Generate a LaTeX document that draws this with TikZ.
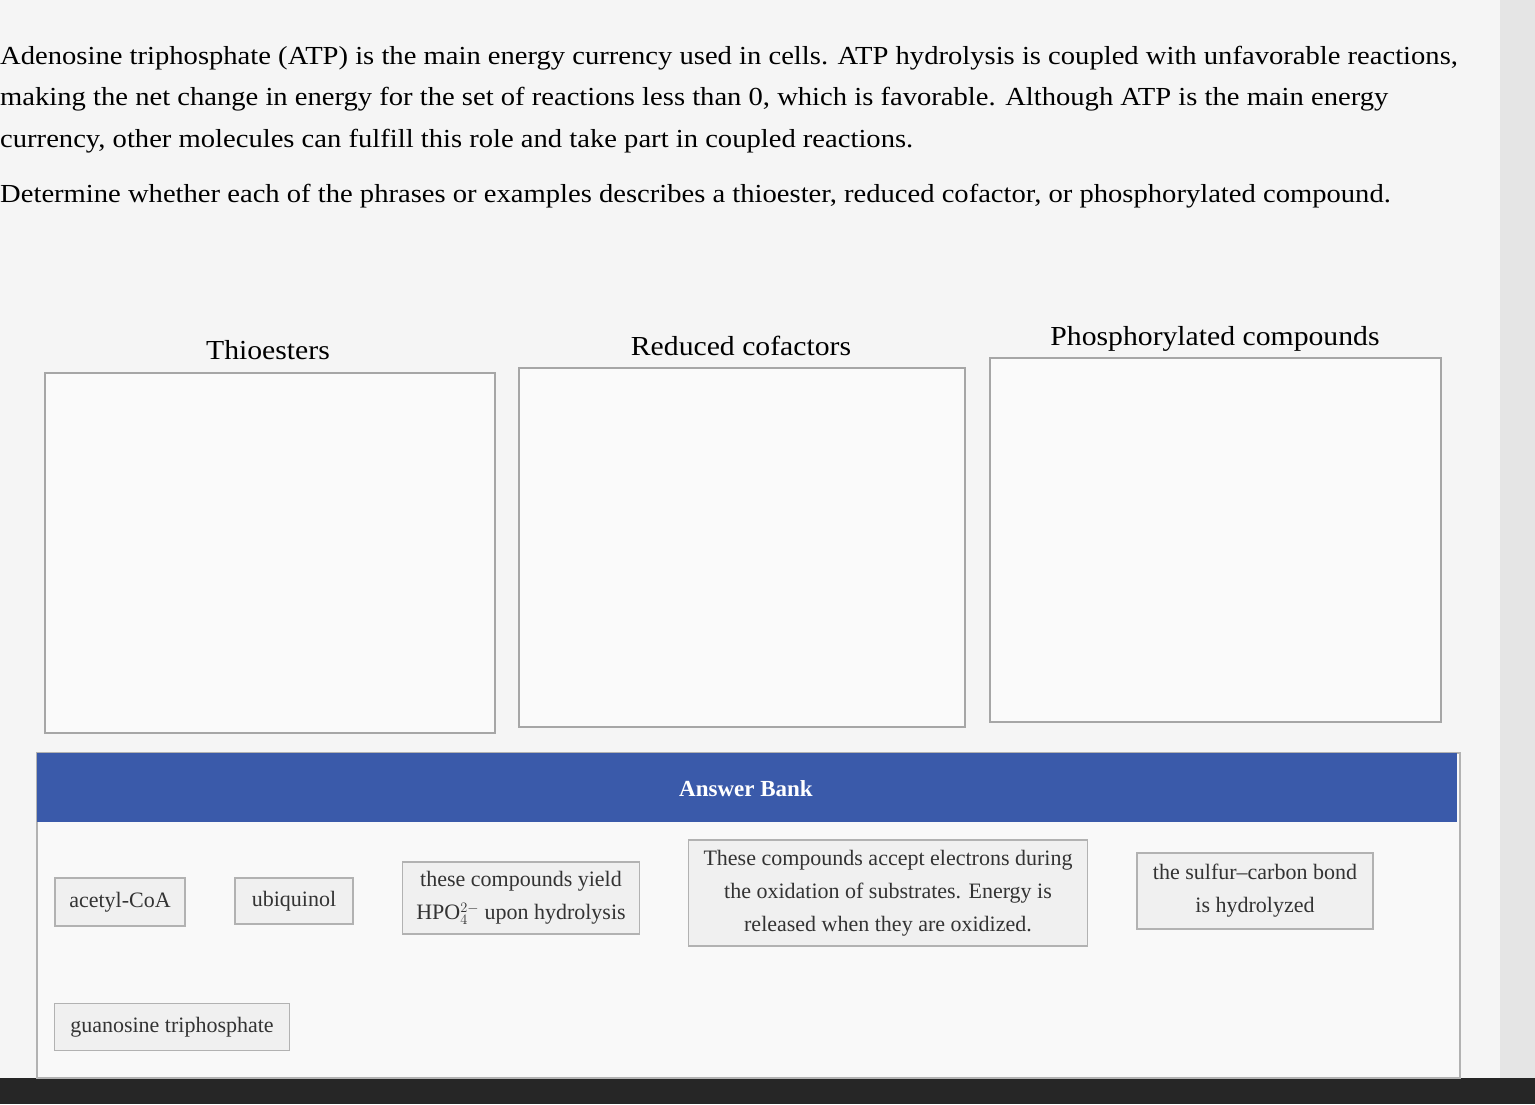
\documentclass[tikz,border=0pt]{standalone}
\usepackage{fontspec}
\setmainfont{Liberation Serif}
\definecolor{bankblue}{HTML}{3A5AAA}
\begin{document}
\begin{tikzpicture}[x=1pt,y=-1pt,
  txt/.style={anchor=west,inner sep=0,xscale=1.1,font=\fontsize{26}{30}\selectfont},
  lab/.style={inner sep=0,xscale=1.08,font=\fontsize{27.5}{30}\selectfont},
  bin/.style={draw=gray!70,line width=1.5pt,fill=white!96!gray},
  tile/.style={draw=gray!60,line width=1.2pt,fill=gray!12,align=center,font=\fontsize{22}{33}\selectfont,text=black!80}]
\fill[gray!8] (0,0) rectangle (1535,1104);
\fill[gray!20] (1500,0) rectangle (1535,1104);
\fill[black!85] (0,1078) rectangle (1535,1104);
\useasboundingbox (0,0) rectangle (1535,1104);
\node[txt] (l1) at (0,58) {Adenosine triphosphate (ATP) is the main energy currency used in cells. ATP hydrolysis is coupled with unfavorable reactions,};
\node[txt] (l2) at (0,99) {making the net change in energy for the set of reactions less than 0, which is favorable. Although ATP is the main energy};
\node[txt] (l3) at (0,141) {currency, other molecules can fulfill this role and take part in coupled reactions.};
\node[txt] (l4) at (0,196) {Determine whether each of the phrases or examples describes a thioester, reduced cofactor, or phosphorylated compound.};
\draw[bin] (45,373) rectangle (495,733);
\draw[bin] (519,368) rectangle (965,727);
\draw[bin] (990,358) rectangle (1441,722);
\node[lab] (t1) at (268,350) {Thioesters};
\node[lab] (t2) at (741,346) {Reduced cofactors};
\node[lab] (t3) at (1215,339) {Phosphorylated compounds};
\draw[gray!60,line width=1.2pt,fill=white!95!gray] (37,753) rectangle (1460,1078);
\fill[bankblue] (37,753) rectangle (1457,822);
\node[font=\bfseries\fontsize{23}{25}\selectfont,text=white] (ab) at (746,789) {Answer Bank};
\node[tile,minimum width=130pt,minimum height=48pt] (a) at (120,902) {acetyl-CoA};
\node[tile,minimum width=118pt,minimum height=46pt] (b) at (294,901) {ubiquinol};
\node[tile,minimum width=237pt,minimum height=72pt] (c) at (521,898) {these compounds yield\\HPO$_4^{2-}$ upon hydrolysis};
\node[tile,minimum width=399pt,minimum height=106pt] (d) at (888,893) {These compounds accept electrons during\\the oxidation of substrates. Energy is\\released when they are oxidized.};
\node[tile,minimum width=236pt,minimum height=76pt] (e) at (1255,891) {the sulfur--carbon bond\\is hydrolyzed};
\node[tile,minimum width=235pt,minimum height=47pt] (f) at (172,1027) {guanosine triphosphate};
\end{tikzpicture}
\end{document}
